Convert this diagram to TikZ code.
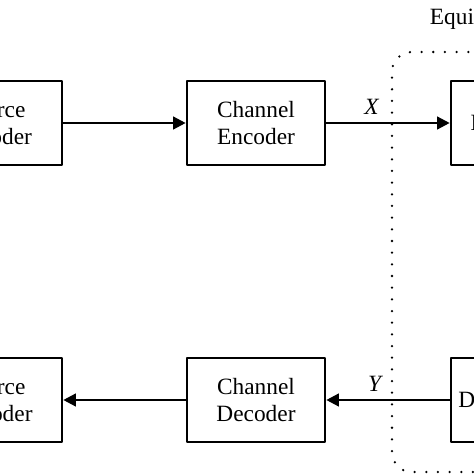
\documentclass[tikz,border=0pt]{standalone}
\usepackage{fontspec}
\setmainfont{Liberation Serif}
\usetikzlibrary{arrows.meta}
\begin{document}
\begin{tikzpicture}[x=0.025cm, y=0.025cm, font=\fontsize{16.6pt}{19.2pt}\selectfont, line join=round, >={Triangle[length=9pt,width=9pt]},
		block/.style={draw, line width=1.8pt, minimum width=3.45cm, minimum height=2.1cm, align=center, inner sep=0pt},
		link/.style={->, line width=1.7pt},
		eqbox/.style={line width=1.8pt, line cap=round, dash pattern=on 0pt off 8.3pt, rounded corners=14}]
				\clip (0,0) rectangle (474,474);
				% top row
				\node[block] (srcenc) at (-7,351) {Source\\Encoder};
				\node[block] (chenc) at (256,351) {Channel\\Encoder};
				\node[block] (mod) at (520,351) {Modulator};
				% bottom row
				\node[block] (srcdec) at (-7,74) {Source\\Decoder};
				\node[block] (chdec) at (256,74) {Channel\\Decoder};
				\node[block] (demod) at (520,74) {Demodulator};
				\draw[link] (srcenc) -- (chenc);
				\draw[link] (chenc) -- node[pos=.37, above=2pt]{\textit{X}} (mod);
				\draw[link] (demod) -- node[pos=.6, above=2pt]{\textit{Y}} (chdec);
				\draw[link] (chdec) -- (srcdec);
				\draw[eqbox] (620,422) -- (392,422) -- (392,2) -- (620,2);
				\node[anchor=base west] (eqlabel) at (425,449) {Equivalent Channel};
			\end{tikzpicture}
\end{document}
